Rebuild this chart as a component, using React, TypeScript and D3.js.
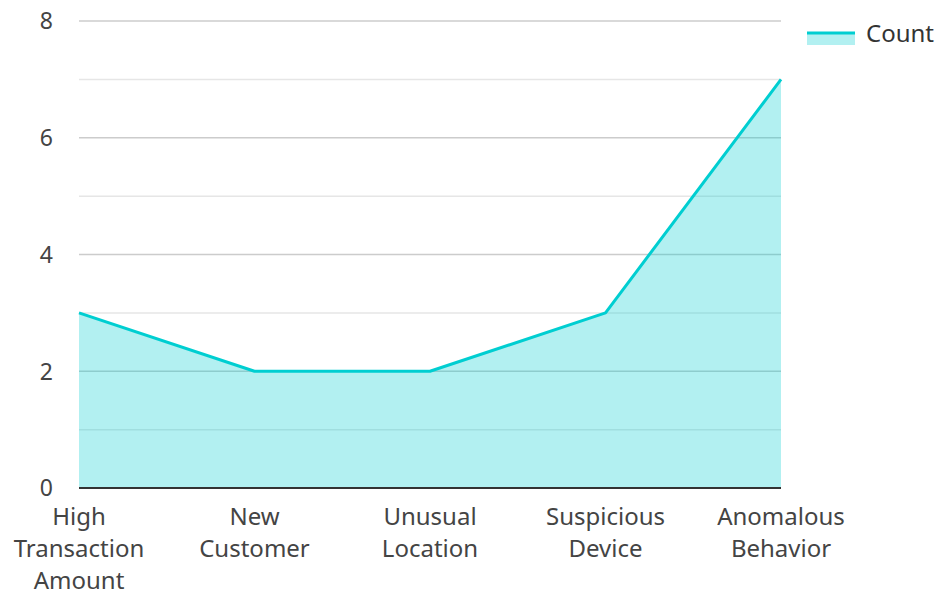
import React from 'react';
import * as d3 from 'd3';

const categories = ['High Transaction Amount', 'New Customer', 'Unusual Location', 'Suspicious Device', 'Anomalous Behavior'];
const labelLines = [['High', 'Transaction', 'Amount'], ['New', 'Customer'], ['Unusual', 'Location'], ['Suspicious', 'Device'], ['Anomalous', 'Behavior']];
const counts = [3, 2, 2, 3, 7];
const majorTicks = [0, 2, 4, 6, 8];
const minorTicks = [1, 3, 5, 7];
const seriesName = 'Count';

const W = 938;
const H = 592;
const left = 79;
const right = 781;
const top = 21;
const bottom = 488;
const font = '"Noto Sans", "Open Sans", sans-serif';
const lineColor = '#00ced1';

export default function App() {
  const x = d3.scalePoint<string>().domain(categories).range([left, right]);
  const y = d3.scaleLinear().domain([0, 8]).range([bottom, top]);
  const pts = categories.map((c, i) => ({ c, v: counts[i] }));
  const area = d3.area<{ c: string; v: number }>().x(d => x(d.c)!).y0(y(0)).y1(d => y(d.v));
  const line = d3.line<{ c: string; v: number }>().x(d => x(d.c)!).y(d => y(d.v));

  return (
    <svg width={W} height={H} style={{ position: 'absolute', left: 0, top: 0 }} fontFamily={font}>
      <rect width={W} height={H} fill="#fff" />
      {minorTicks.map(t => (
        <line key={'m' + t} x1={left} x2={right} y1={y(t)} y2={y(t)} stroke="#e6e6e6" strokeWidth={1.5} />
      ))}
      {majorTicks.map(t => (
        <g key={t}>
          {t > 0 && <line x1={left} x2={right} y1={y(t)} y2={y(t)} stroke="#cccccc" strokeWidth={1.5} />}
          <text x={53} y={y(t)} dy="0.36em" textAnchor="end" fontSize={23} fill="#444">{t}</text>
        </g>
      ))}
      <path d={area(pts)!} fill={lineColor} fillOpacity={0.3} />
      <path d={line(pts)!} fill="none" stroke={lineColor} strokeWidth={3} strokeLinejoin="round" />
      <line x1={left} x2={right} y1={bottom} y2={bottom} stroke="#333" strokeWidth={2} />
      {categories.map((c, i) => (
        <text key={c} x={x(c)!} y={525} textAnchor="middle" fontSize={24} fill="#444">
          {labelLines[i].map((l, j) => (
            <tspan key={j} x={x(c)!} dy={j === 0 ? 0 : 32}>{l}</tspan>
          ))}
        </text>
      ))}
      <g>
        <rect x={807} y={33} width={48} height={12} fill={lineColor} fillOpacity={0.3} />
        <line x1={807} x2={855} y1={33} y2={33} stroke={lineColor} strokeWidth={3} />
        <text x={866} y={33} dy="0.36em" fontSize={24} fill="#333">{seriesName}</text>
      </g>
    </svg>
  );
}
